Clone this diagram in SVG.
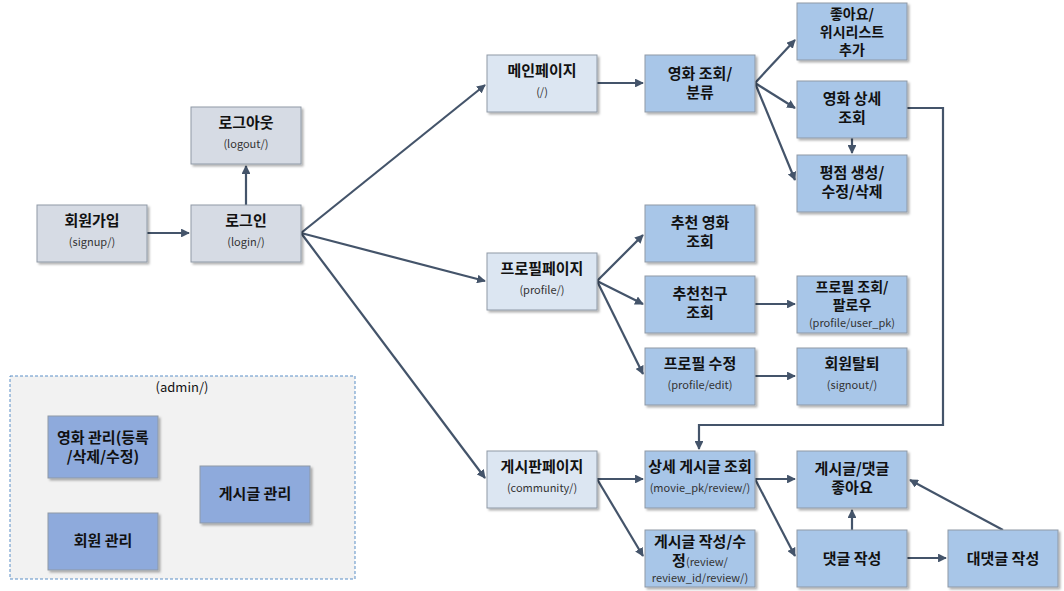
<svg xmlns="http://www.w3.org/2000/svg" width="1064" height="591" viewBox="0 0 1064 591">
<style>
.b{stroke:#8f99a6;stroke-width:1;filter:url(#sh)}
.g{fill:#d6dbe4}.l{fill:#dce6f2}.m{fill:#a8c6e8}.d{fill:#8eaadc}
text{font-family:"Noto Sans CJK KR","Noto Sans",sans-serif;text-anchor:middle;fill:#111}
.t{font-size:15px;font-weight:bold}
.u{font-size:14px;font-weight:bold}
.s{font-size:11px;fill:#333}
.c path,.c line,.c polyline{stroke:#44546a;stroke-width:2.2;fill:none;marker-end:url(#a)}
</style>
<defs>
<marker id="a" viewBox="0 0 10 10" refX="9" refY="5" markerWidth="4" markerHeight="4" orient="auto"><path d="M0,0L10,5L0,10z" fill="#44546a"/></marker>
<filter id="sh" x="-10%" y="-10%" width="130%" height="130%"><feDropShadow dx="2" dy="2" stdDeviation="1" flood-color="#000" flood-opacity="0.3"/></filter>
</defs>
<rect width="1064" height="591" fill="#fff"/>
<g id="admin">
<rect x="10" y="376" width="345" height="203" fill="#f2f2f2" stroke="#5b8fc7" stroke-dasharray="3,2"/>
<text x="182" y="392" style="font-size:13px">(admin/)</text>
</g>
<g class="c" id="connectors">
<line x1="147" y1="233" x2="189" y2="233"/>
<line x1="246" y1="205" x2="246" y2="166"/>
<line x1="301" y1="233" x2="485" y2="85"/>
<line x1="301" y1="233" x2="485" y2="281"/>
<line x1="301" y1="233" x2="485" y2="478"/>
<line x1="597" y1="83" x2="643" y2="83"/>
<line x1="755" y1="83" x2="795" y2="40"/>
<line x1="755" y1="83" x2="795" y2="108"/>
<line x1="755" y1="83" x2="795" y2="180"/>
<line x1="852" y1="138" x2="852" y2="153"/>
<line x1="597" y1="281" x2="643" y2="235"/>
<line x1="597" y1="281" x2="643" y2="304"/>
<line x1="597" y1="281" x2="643" y2="374"/>
<line x1="755" y1="304" x2="795" y2="304"/>
<line x1="755" y1="376" x2="795" y2="376"/>
<polyline points="907,108 943,108 943,425 699,425 699,449"/>
<line x1="597" y1="479" x2="643" y2="479"/>
<line x1="597" y1="479" x2="643" y2="556"/>
<line x1="755" y1="479" x2="795" y2="479"/>
<line x1="755" y1="479" x2="795" y2="556"/>
<line x1="852" y1="530" x2="852" y2="510"/>
<line x1="907" y1="558" x2="946" y2="558"/>
<line x1="1003" y1="530" x2="910" y2="480"/>
</g>
<g id="signup"><rect class="b g" x="37" y="205" width="110" height="57"/><text class="t" x="92" y="226">회원가입</text><text class="s" x="92" y="246">(signup/)</text></g>
<g id="login"><rect class="b g" x="191" y="205" width="110" height="57"/><text class="t" x="246" y="226">로그인</text><text class="s" x="246" y="246">(login/)</text></g>
<g id="logout"><rect class="b g" x="191" y="107" width="110" height="57"/><text class="t" x="246" y="128">로그아웃</text><text class="s" x="246" y="148">(logout/)</text></g>
<g id="main"><rect class="b l" x="487" y="55" width="110" height="57"/><text class="t" x="542" y="76">메인페이지</text><text class="s" x="542" y="96">(/)</text></g>
<g id="profile"><rect class="b l" x="487" y="253" width="110" height="57"/><text class="t" x="542" y="274">프로필페이지</text><text class="s" x="542" y="294">(profile/)</text></g>
<g id="community"><rect class="b l" x="487" y="451" width="110" height="57"/><text class="t" x="542" y="472">게시판페이지</text><text class="s" x="542" y="492">(community/)</text></g>
<g id="movie"><rect class="b m" x="645" y="55" width="110" height="57"/><text class="t" x="700" y="79">영화 조회/</text><text class="t" x="700" y="98">분류</text></g>
<g id="like"><rect class="b m" x="797" y="3" width="110" height="57"/><text class="u" x="852" y="19">좋아요/</text><text class="u" x="852" y="37">위시리스트</text><text class="u" x="852" y="55">추가</text></g>
<g id="detail"><rect class="b m" x="797" y="81" width="110" height="57"/><text class="t" x="852" y="104">영화 상세</text><text class="t" x="852" y="123">조회</text></g>
<g id="rating"><rect class="b m" x="797" y="155" width="110" height="57"/><text class="t" x="852" y="178">평점 생성/</text><text class="t" x="852" y="197">수정/삭제</text></g>
<g id="recmovie"><rect class="b m" x="645" y="205" width="110" height="57"/><text class="t" x="700" y="228">추천 영화</text><text class="t" x="700" y="247">조회</text></g>
<g id="recfriend"><rect class="b m" x="645" y="276" width="110" height="57"/><text class="t" x="700" y="299">추천친구</text><text class="t" x="700" y="318">조회</text></g>
<g id="follow"><rect class="b m" x="797" y="276" width="110" height="57"/><text class="u" x="852" y="292">프로필 조회/</text><text class="u" x="852" y="310">팔로우</text><text class="s" x="852" y="327">(profile/user_pk)</text></g>
<g id="edit"><rect class="b m" x="645" y="348" width="110" height="57"/><text class="t" x="700" y="369">프로필 수정</text><text class="s" x="700" y="389">(profile/edit)</text></g>
<g id="signout"><rect class="b m" x="797" y="348" width="110" height="57"/><text class="t" x="852" y="369">회원탈퇴</text><text class="s" x="852" y="389">(signout/)</text></g>
<g id="review"><rect class="b m" x="645" y="451" width="110" height="57"/><text class="t" x="700" y="472">상세 게시글 조회</text><text class="s" x="700" y="492">(movie_pk/review/)</text></g>
<g id="write"><rect class="b m" x="645" y="530" width="110" height="57"/><text class="t" x="700" y="547">게시글 작성/수</text><text x="700" y="566"><tspan class="t">정</tspan><tspan class="s">(review/</tspan></text><text class="s" x="700" y="582">review_id/review/)</text></g>
<g id="rlike"><rect class="b m" x="797" y="451" width="110" height="57"/><text class="t" x="852" y="474">게시글/댓글</text><text class="t" x="852" y="493">좋아요</text></g>
<g id="comment"><rect class="b m" x="797" y="530" width="110" height="57"/><text class="t" x="852" y="564">댓글 작성</text></g>
<g id="reply"><rect class="b m" x="948" y="530" width="110" height="57"/><text class="t" x="1003" y="564">대댓글 작성</text></g>
<g id="admmovie"><rect class="b d" x="48" y="416" width="110" height="62"/><text class="t" x="103" y="443">영화 관리(등록</text><text class="t" x="103" y="462">/삭제/수정)</text></g>
<g id="admuser"><rect class="b d" x="48" y="513" width="110" height="57"/><text class="t" x="103" y="546">회원 관리</text></g>
<g id="admreview"><rect class="b d" x="200" y="466" width="110" height="57"/><text class="t" x="255" y="499">게시글 관리</text></g>
</svg>
